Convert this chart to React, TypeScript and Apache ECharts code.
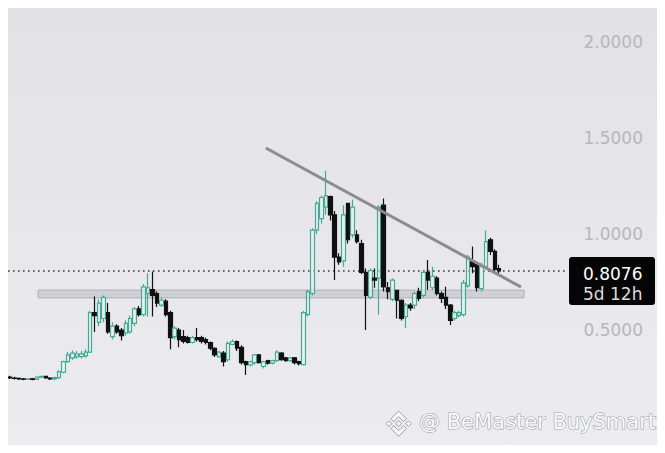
import React, { useEffect, useRef } from "react";
import * as echarts from "echarts";

// [open, close, low, high]
const candles: number[][] = [
  [0.255, 0.25, 0.245, 0.262],
  [0.25, 0.248, 0.242, 0.256],
  [0.248, 0.245, 0.24, 0.252],
  [0.245, 0.244, 0.238, 0.25],
  [0.244, 0.246, 0.24, 0.25],
  [0.246, 0.243, 0.238, 0.25],
  [0.243, 0.255, 0.24, 0.258],
  [0.255, 0.258, 0.25, 0.262],
  [0.258, 0.25, 0.246, 0.262],
  [0.25, 0.245, 0.24, 0.254],
  [0.245, 0.252, 0.238, 0.256],
  [0.252, 0.283, 0.245, 0.29],
  [0.28, 0.335, 0.275, 0.34],
  [0.335, 0.37, 0.33, 0.385],
  [0.355, 0.38, 0.345, 0.395],
  [0.36, 0.375, 0.35, 0.39],
  [0.362, 0.376, 0.35, 0.392],
  [0.365, 0.385, 0.355, 0.4],
  [0.385, 0.59, 0.38, 0.6],
  [0.59, 0.575, 0.49, 0.675],
  [0.54, 0.64, 0.52, 0.66],
  [0.56, 0.67, 0.54, 0.68],
  [0.59, 0.49, 0.48, 0.64],
  [0.465, 0.52, 0.45, 0.54],
  [0.52, 0.49, 0.48, 0.53],
  [0.5, 0.47, 0.445, 0.51],
  [0.485, 0.535, 0.47, 0.55],
  [0.49, 0.56, 0.48, 0.575],
  [0.535, 0.61, 0.52, 0.62],
  [0.61, 0.58, 0.57, 0.625],
  [0.58, 0.725, 0.57, 0.74],
  [0.69, 0.72, 0.57, 0.795],
  [0.71, 0.68, 0.57, 0.805],
  [0.69, 0.64, 0.62, 0.7],
  [0.63, 0.655, 0.62, 0.67],
  [0.65, 0.58, 0.57, 0.66],
  [0.59, 0.46, 0.4, 0.6],
  [0.465, 0.51, 0.45, 0.52],
  [0.5, 0.45, 0.41, 0.51],
  [0.465, 0.44, 0.43, 0.5],
  [0.46, 0.435, 0.43, 0.47],
  [0.435, 0.46, 0.43, 0.47],
  [0.46, 0.45, 0.44, 0.51],
  [0.46, 0.44, 0.43, 0.47],
  [0.45, 0.435, 0.425, 0.46],
  [0.435, 0.405, 0.395, 0.44],
  [0.405, 0.37, 0.36, 0.41],
  [0.36, 0.385, 0.355, 0.39],
  [0.38, 0.335, 0.31, 0.39],
  [0.345, 0.43, 0.335, 0.44],
  [0.425, 0.44, 0.42, 0.45],
  [0.44, 0.405, 0.39, 0.445],
  [0.41, 0.33, 0.32, 0.42],
  [0.335, 0.32, 0.265, 0.34],
  [0.318, 0.335, 0.31, 0.34],
  [0.33, 0.37, 0.32, 0.375],
  [0.37, 0.33, 0.325, 0.375],
  [0.31, 0.335, 0.3, 0.34],
  [0.34, 0.327, 0.32, 0.345],
  [0.327, 0.34, 0.32, 0.345],
  [0.34, 0.385, 0.335, 0.395],
  [0.38, 0.345, 0.34, 0.385],
  [0.355, 0.34, 0.335, 0.36],
  [0.34, 0.355, 0.335, 0.36],
  [0.355, 0.33, 0.32, 0.36],
  [0.335, 0.325, 0.315, 0.34],
  [0.32, 0.59, 0.315, 0.6],
  [0.58, 0.7, 0.57, 0.71],
  [0.69, 1.02, 0.68, 1.03],
  [1.02, 1.16, 1.0, 1.17],
  [1.08, 1.19, 1.055, 1.2],
  [1.14, 1.2, 1.1, 1.33],
  [1.195, 1.1, 1.07, 1.2],
  [1.1, 0.88, 0.76, 1.12],
  [0.88, 0.855, 0.84, 0.9],
  [0.86, 1.1, 0.83, 1.15],
  [1.16, 0.97, 0.95, 1.16],
  [0.995, 1.14, 0.98, 1.18],
  [0.995, 0.96, 0.95, 1.02],
  [0.95, 0.8, 0.79, 0.97],
  [0.8, 0.68, 0.5, 0.82],
  [0.67, 0.81, 0.66, 0.82],
  [0.77, 0.76, 0.72, 0.82],
  [0.77, 1.14, 0.58, 1.15],
  [1.15, 0.725, 0.7, 1.185],
  [0.72, 0.7, 0.66, 0.75],
  [0.66, 0.76, 0.65, 0.77],
  [0.707, 0.655, 0.56, 0.71],
  [0.655, 0.56, 0.55, 0.66],
  [0.57, 0.63, 0.51, 0.64],
  [0.63, 0.615, 0.6, 0.64],
  [0.63, 0.69, 0.61, 0.7],
  [0.7, 0.665, 0.65, 0.72],
  [0.68, 0.8, 0.67, 0.81],
  [0.8, 0.76, 0.71, 0.865],
  [0.72, 0.78, 0.71, 0.83],
  [0.77, 0.69, 0.68, 0.78],
  [0.69, 0.665, 0.64, 0.7],
  [0.67, 0.63, 0.61, 0.725],
  [0.63, 0.55, 0.526, 0.635],
  [0.56, 0.59, 0.55, 0.6],
  [0.575, 0.59, 0.565, 0.6],
  [0.58, 0.745, 0.57, 0.76],
  [0.73, 0.88, 0.72, 0.89],
  [0.855, 0.83, 0.795, 0.935],
  [0.84, 0.72, 0.7, 0.85],
  [0.715, 0.83, 0.7, 0.85],
  [0.83, 0.96, 0.82, 1.02],
  [0.97, 0.91, 0.89, 0.98],
  [0.91, 0.815, 0.8, 0.92],
  [0.82, 0.8076, 0.79, 0.84],
];

const SLOTS = 146;
const categories = Array.from({ length: SLOTS }, (_, i) => String(i + 1));
const yTicks = { min: 0, max: 2, interval: 0.5 };
const lastPrice = 0.8076;
const lastPriceLabel = "0.8076";
const countdownLabel = "5d 12h";
const priceLineX = [-0.5, 125];
const trendLineX = [57.5, 114.9];
const trendLineY = [1.448, 0.724];
const zoneX = [6.25, 115.6];
const zoneY = [0.667, 0.708];
const watermark = "@ BeMaster BuySmart";

const LOGO_D =
  "M38.73,53.2l24.59-24.58,24.6,24.6,14.3-14.31L63.32,0,24.42,38.9Z M0,63.31l14.3-14.31,14.31,14.31L14.3,77.61Z M38.73,73.41l24.59,24.59,24.6-24.6,14.31,14.29L63.32,126.61,24.42,87.72Z M98,63.31l14.3-14.31,14.31,14.3-14.31,14.32Z M77.83,63.3L63.32,48.78,48.81,63.28,63.32,77.78Z";

let registered = false;
function ensureLogo() {
  if (registered) return;
  echarts.graphic.registerShape("logo", echarts.graphic.extendPath(LOGO_D, {}) as any);
  registered = true;
}

const FONT = "DejaVu Sans";
const TEAL = "#43ab95";

export default function App() {
  const ref = useRef<HTMLDivElement>(null);
  useEffect(() => {
    ensureLogo();
    const chart = echarts.init(ref.current!, null, { renderer: "svg" });
    chart.setOption({
      animation: false,
      grid: { left: 0, right: 0, top: 34, bottom: 19, outerBoundsMode: "none" },
      xAxis: [
        { type: "category", data: categories, show: false, boundaryGap: true },
        { type: "value", min: -0.5, max: SLOTS - 0.5, show: false },
      ],
      yAxis: {
        type: "value",
        min: yTicks.min,
        max: yTicks.max,
        interval: yTicks.interval,
        position: "right",
        axisLine: { show: false },
        axisTick: { show: false },
        splitLine: { show: false },
        axisLabel: {
          inside: true,
          margin: 14,
          color: "#b6b6be",
          fontSize: 17,
          fontFamily: FONT,
          formatter: (v: number) => (v === 0 ? "" : v.toFixed(4)),
        },
      },
      series: [
        {
          type: "custom",
          xAxisIndex: 1,
          yAxisIndex: 0,
          silent: true,
          z: 1,
          data: [[zoneX[0], zoneX[1], zoneY[0], zoneY[1]]],
          renderItem: (params: any, api: any) => {
            const p1 = api.coord([api.value(0), api.value(3)]);
            const p2 = api.coord([api.value(1), api.value(2)]);
            return {
              type: "rect",
              shape: { x: p1[0], y: p1[1], width: p2[0] - p1[0], height: p2[1] - p1[1] },
              style: { fill: "#cfcfd6", stroke: "#b2b2ba", lineWidth: 1 },
            };
          },
        },
        {
          type: "line",
          xAxisIndex: 1,
          yAxisIndex: 0,
          silent: true,
          z: 2,
          symbol: "none",
          data: [
            [priceLineX[0], lastPrice],
            [priceLineX[1], lastPrice],
          ],
          lineStyle: { color: "#3a3a3a", width: 1.6, type: [1.6, 3.4] },
        },
        {
          type: "candlestick",
          xAxisIndex: 0,
          yAxisIndex: 0,
          z: 3,
          barWidth: 4,
          data: candles,
          itemStyle: {
            color: "rgba(240,240,244,0.6)",
            color0: "#111111",
            borderColor: TEAL,
            borderColor0: "#111111",
            borderWidth: 1.2,
          },
        },
        {
          type: "line",
          xAxisIndex: 1,
          yAxisIndex: 0,
          silent: true,
          z: 5,
          symbol: "none",
          data: [
            [trendLineX[0], trendLineY[0]],
            [trendLineX[1], trendLineY[1]],
          ],
          lineStyle: { color: "#8c8c8c", width: 3 },
        },
      ],
      graphic: [
        {
          type: "rect",
          z: 100,
          shape: { x: 561, y: 249, width: 86, height: 48, r: 3 },
          style: { fill: "#050505" },
        },
        {
          type: "text",
          z: 101,
          x: 575,
          y: 266,
          style: {
            text: lastPriceLabel,
            fill: "#ffffff",
            fontSize: 17,
            fontFamily: FONT,
            textAlign: "left",
            textVerticalAlign: "middle",
          },
        },
        {
          type: "text",
          z: 101,
          x: 575,
          y: 286,
          style: {
            text: countdownLabel,
            fill: "#dcdcdc",
            fontSize: 17,
            fontFamily: FONT,
            textAlign: "left",
            textVerticalAlign: "middle",
          },
        },
        {
          type: "logo",
          z: 100,
          x: 378,
          y: 403,
          scaleX: 0.2,
          scaleY: 0.2,
          style: { fill: "#f7f7f9", stroke: "#9c9ca6", lineWidth: 5 },
        },
        {
          type: "text",
          z: 100,
          x: 411,
          y: 414,
          style: {
            text: watermark,
            fill: "#fbfbfd",
            stroke: "#9c9ca6",
            lineWidth: 1.2,
            fontSize: 21,
            fontFamily: FONT,
            textAlign: "left",
            textVerticalAlign: "middle",
          },
        },
      ],
    });
    return () => chart.dispose();
  }, []);
  return (
    <div
      ref={ref}
      style={{
        width: 649,
        height: 437,
        background: "linear-gradient(#e1e1e6, #ececf0)",
      }}
    />
  );
}
